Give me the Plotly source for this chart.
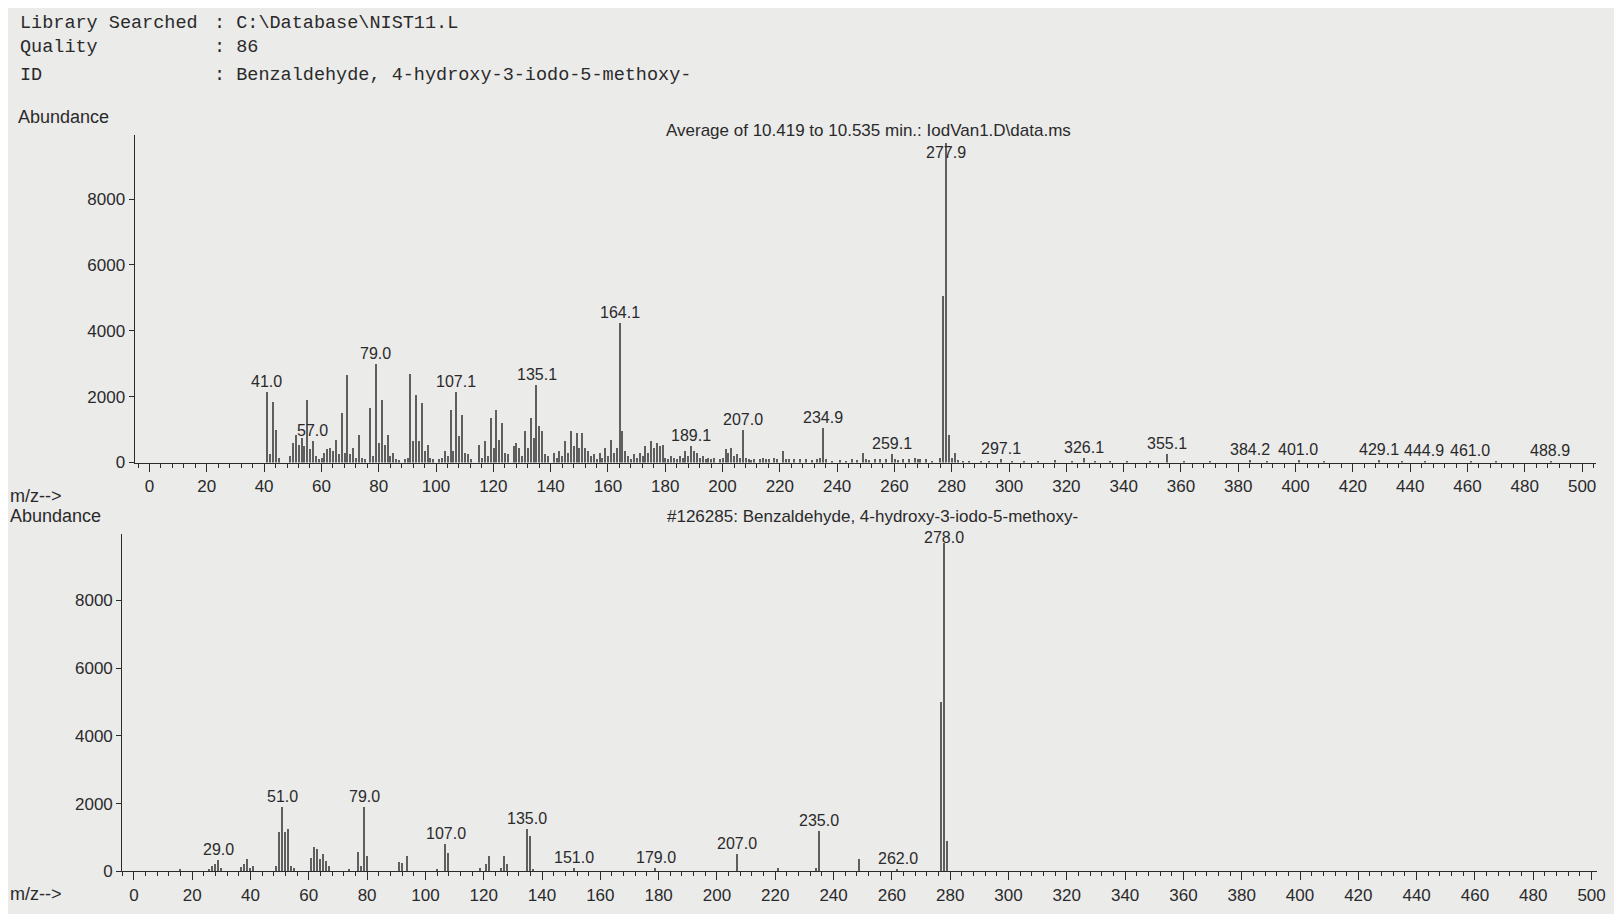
import plotly.graph_objects as go

# ---------------- data ----------------
# Sample spectrum (top): nominal m/z and abundance
mz_top = [41, 42, 43, 44, 45, 49, 50, 51, 52, 53, 54, 55, 56, 57, 58, 59, 60, 61, 62, 63,
          64, 65, 66, 67, 68, 69, 70, 71, 72, 73, 74, 75, 77, 78, 79, 80, 81, 82, 83, 84,
          85, 86, 87, 89, 90, 91, 92, 93, 94, 95, 96, 97, 98, 99, 101, 102, 103, 104, 105, 106,
          107, 108, 109, 110, 111, 112, 115, 116, 117, 118, 119, 120, 121, 122, 123, 124, 125, 127, 128, 129,
          130, 131, 132, 133, 134, 135, 136, 137, 138, 139, 141, 142, 143, 144, 145, 146, 147, 148, 149, 150,
          151, 152, 153, 154, 155, 156, 157, 158, 159, 160, 161, 162, 163, 164, 165, 166, 167, 168, 169, 170,
          171, 172, 173, 174, 175, 176, 177, 178, 179, 180, 181, 182, 183, 184, 185, 186, 187, 188, 189, 190,
          191, 192, 193, 194, 195, 196, 197, 199, 200, 201, 202, 203, 204, 205, 206, 207, 208, 209, 210, 211,
          213, 214, 215, 216, 218, 219, 221, 222, 223, 225, 227, 229, 231, 233, 234, 235, 236, 238, 241, 243,
          245, 247, 249, 250, 251, 253, 255, 257, 259, 260, 261, 263, 265, 267, 268, 269, 271, 273, 276, 277,
          278, 279, 280, 281, 282, 284, 286, 290, 293, 297, 301, 305, 310, 316, 322, 326, 330, 335, 341, 349,
          355, 361, 370, 384, 390, 401, 410, 429, 437, 445, 461, 470, 489]
ab_top = [2150, 250, 1850, 1000, 150, 200, 600, 850, 550, 750, 500, 1900, 400, 650, 200, 100, 150, 300, 400, 450,
          350, 700, 250, 1500, 300, 2650, 250, 450, 150, 850, 150, 100, 1650, 200, 3000, 600, 1900, 550, 850, 200,
          300, 100, 80, 100, 150, 2700, 650, 2050, 650, 1800, 350, 550, 150, 100, 100, 150, 350, 200, 1600, 350,
          2150, 800, 1450, 300, 250, 100, 550, 150, 650, 200, 1350, 450, 1600, 700, 1200, 300, 250, 500, 600, 450,
          200, 950, 450, 1350, 750, 2350, 1100, 950, 250, 200, 300, 150, 350, 200, 650, 300, 950, 500, 900, 450,
          900, 450, 350, 200, 250, 100, 300, 150, 450, 200, 700, 300, 450, 4250, 950, 350, 200, 100, 250, 150,
          300, 200, 500, 300, 650, 450, 600, 500, 550, 150, 100, 200, 150, 100, 200, 150, 350, 200, 500, 350,
          300, 150, 200, 100, 150, 100, 150, 100, 150, 400, 300, 450, 200, 250, 150, 1000, 150, 100, 80, 100,
          120, 150, 120, 100, 150, 100, 350, 100, 120, 100, 120, 100, 80, 100, 150, 1050, 100, 60, 80, 60,
          100, 80, 300, 100, 80, 100, 120, 100, 250, 100, 80, 100, 100, 150, 100, 120, 100, 60, 150, 5050,
          9700, 850, 150, 300, 80, 60, 50, 60, 50, 120, 50, 60, 50, 70, 60, 150, 60, 50, 60, 50,
          250, 40, 50, 70, 40, 70, 40, 70, 40, 50, 50, 40, 60]
labels_top = ["41.0", "57.0", "79.0", "107.1", "135.1", "164.1", "189.1", "207.0", "234.9", "259.1",
              "277.9", "297.1", "326.1", "355.1", "384.2", "401.0", "429.1", "444.9", "461.0", "488.9"]

# Library spectrum (bottom): #126285
mz_lib = [16, 26, 27, 28, 29, 30, 37, 38, 39, 40, 41, 49, 50, 51, 52, 53, 54, 55, 61, 62,
          63, 64, 65, 66, 67, 74, 77, 78, 79, 80, 91, 92, 94, 104, 107, 108, 119, 121, 122, 126,
          127, 128, 135, 136, 137, 151, 179, 207, 221, 234, 235, 249, 262, 277, 278, 279]
ab_lib = [60, 60, 150, 200, 330, 80, 120, 200, 350, 80, 150, 150, 1150, 1900, 1150, 1250, 150, 80, 400, 700,
          650, 350, 500, 300, 150, 60, 580, 150, 1900, 450, 280, 250, 450, 50, 800, 550, 100, 200, 450, 100,
          450, 200, 1250, 1050, 60, 100, 100, 500, 100, 100, 1200, 350, 60, 5000, 9700, 900]
labels_lib = ["29.0", "51.0", "79.0", "107.0", "135.0", "151.0", "179.0", "207.0", "235.0", "262.0", "278.0"]

x_ticks = list(range(0, 501, 20))
y_ticks = [0, 2000, 4000, 6000, 8000]

header_keys = ["Library Searched", "Quality", "ID"]
header_vals = [": C:\\Database\\NIST11.L", ": 86", ": Benzaldehyde, 4-hydroxy-3-iodo-5-methoxy-"]
title_top = "Average of 10.419 to 10.535 min.: IodVan1.D\\data.ms"
title_lib = "#126285: Benzaldehyde, 4-hydroxy-3-iodo-5-methoxy-"

# ---------------- layout helpers ----------------
W, H = 1606, 906
OFF = 8          # page body margin
S = 0.9865       # observed vertical scale of the captured page
def px(X):
    return (X - OFF) / W
def py(Y):
    return 1 - (Y / S - OFF) / H

BG = "#ebebea"
INK = "#2a2a2a"
BAR = "#5f5f5f"
SANS = "Liberation Sans, Arial, sans-serif"
MONO = "Liberation Mono, DejaVu Sans Mono, monospace"

# axis geometry (target pixels): m/z 0 position and px per unit
top_x0, top_k = 150.2, 2.8796
lib_x0, lib_k = 134.5, 2.93
top_rng = [-5.2, 505]
lib_rng = [-4, 502]
top_base, top_ytop, top_ymax = 461.3, 134.5, 9950
lib_base, lib_ytop, lib_ymax = 869.0, 532.7, 9960

fig = go.Figure()
fig.add_trace(go.Bar(x=mz_top, y=ab_top, width=0.5, marker=dict(color=BAR, line=dict(width=0)),
                     xaxis="x", yaxis="y", showlegend=False, hoverinfo="x+y"))
fig.add_trace(go.Bar(x=mz_lib, y=ab_lib, width=0.5, marker=dict(color=BAR, line=dict(width=0)),
                     xaxis="x2", yaxis="y2", showlegend=False, hoverinfo="x+y"))

def xax(domain, anchor, rng):
    return dict(domain=domain, anchor=anchor, range=rng, showgrid=False, zeroline=False,
                showline=True, linecolor=INK, linewidth=1, ticks="outside", ticklen=8, tickcolor=INK,
                tickwidth=1, tickvals=x_ticks, ticktext=[str(v) for v in x_ticks],
                tickfont=dict(family=SANS, size=17, color=INK), ticklabeloverflow="allow",
                minor=dict(dtick=4, tick0=0, ticks="outside", ticklen=4, tickcolor=INK, showgrid=False),
                fixedrange=True)

def yax(domain, anchor, top):
    return dict(domain=domain, anchor=anchor, range=[0, top], showgrid=False, zeroline=False,
                showline=True, linecolor=INK, linewidth=1, ticks="outside", ticklen=5, tickcolor=INK,
                tickvals=y_ticks, ticktext=[str(v) for v in y_ticks],
                tickfont=dict(family=SANS, size=17, color=INK), fixedrange=True)

annotations = []
TX = 2  # annotation text box padding compensation
for k, v, yy in zip(header_keys, header_vals, [23, 47.5, 75.5]):
    annotations.append(dict(x=px(20 - TX), y=py(yy), xref="paper", yref="paper", text=k, showarrow=False,
                            xanchor="left", yanchor="middle", font=dict(family=MONO, size=18.5, color=INK)))
    annotations.append(dict(x=px(215 - TX), y=py(yy), xref="paper", yref="paper", text=v, showarrow=False,
                            xanchor="left", yanchor="middle", font=dict(family=MONO, size=18.5, color=INK)))

for txt, X, Y in [("Abundance", 18, 117), ("Abundance", 10, 515), ("m/z-->", 10, 494.5), ("m/z-->", 8, 892)]:
    annotations.append(dict(x=max(0, px(X - TX)), y=py(Y), xref="paper", yref="paper", text=txt,
                            showarrow=False, xanchor="left", yanchor="middle",
                            font=dict(family=SANS, size=18, color=INK)))

annotations.append(dict(x=px(873), y=py(130.3), xref="paper", yref="paper", text=title_top, showarrow=False,
                        xanchor="center", yanchor="middle", font=dict(family=SANS, size=17, color=INK)))
annotations.append(dict(x=px(877), y=py(515), xref="paper", yref="paper", text=title_lib, showarrow=False,
                        xanchor="center", yanchor="middle", font=dict(family=SANS, size=17, color=INK)))

lut_top = dict(zip(mz_top, ab_top))
for lab in labels_top:
    m = float(lab)
    annotations.append(dict(x=m, y=min(lut_top.get(round(m), 0), 9100), xref="x", yref="y", text=lab,
                            showarrow=False, xanchor="center", yanchor="bottom",
                            font=dict(family=SANS, size=16, color=INK)))
lut_lib = dict(zip(mz_lib, ab_lib))
for lab in labels_lib:
    m = float(lab)
    annotations.append(dict(x=m, y=min(lut_lib.get(round(m), 0), 9550), xref="x2", yref="y2", text=lab,
                            showarrow=False, xanchor="center", yanchor="bottom",
                            font=dict(family=SANS, size=16, color=INK)))

fig.update_layout(
    width=W, height=H, autosize=False,
    margin=dict(l=0, r=0, t=0, b=0),
    paper_bgcolor=BG, plot_bgcolor=BG,
    xaxis=xax([px(top_x0 + top_rng[0] * top_k), px(top_x0 + top_rng[1] * top_k)], "y", top_rng),
    yaxis=yax([py(top_base), py(top_ytop)], "x", top_ymax),
    xaxis2=xax([px(lib_x0 + lib_rng[0] * lib_k), min(1.0, px(lib_x0 + lib_rng[1] * lib_k))], "y2", lib_rng),
    yaxis2=yax([py(lib_base), py(lib_ytop)], "x2", lib_ymax),
    bargap=0, barmode="overlay",
    annotations=annotations,
    showlegend=False,
)

fig.write_html("out.html")
